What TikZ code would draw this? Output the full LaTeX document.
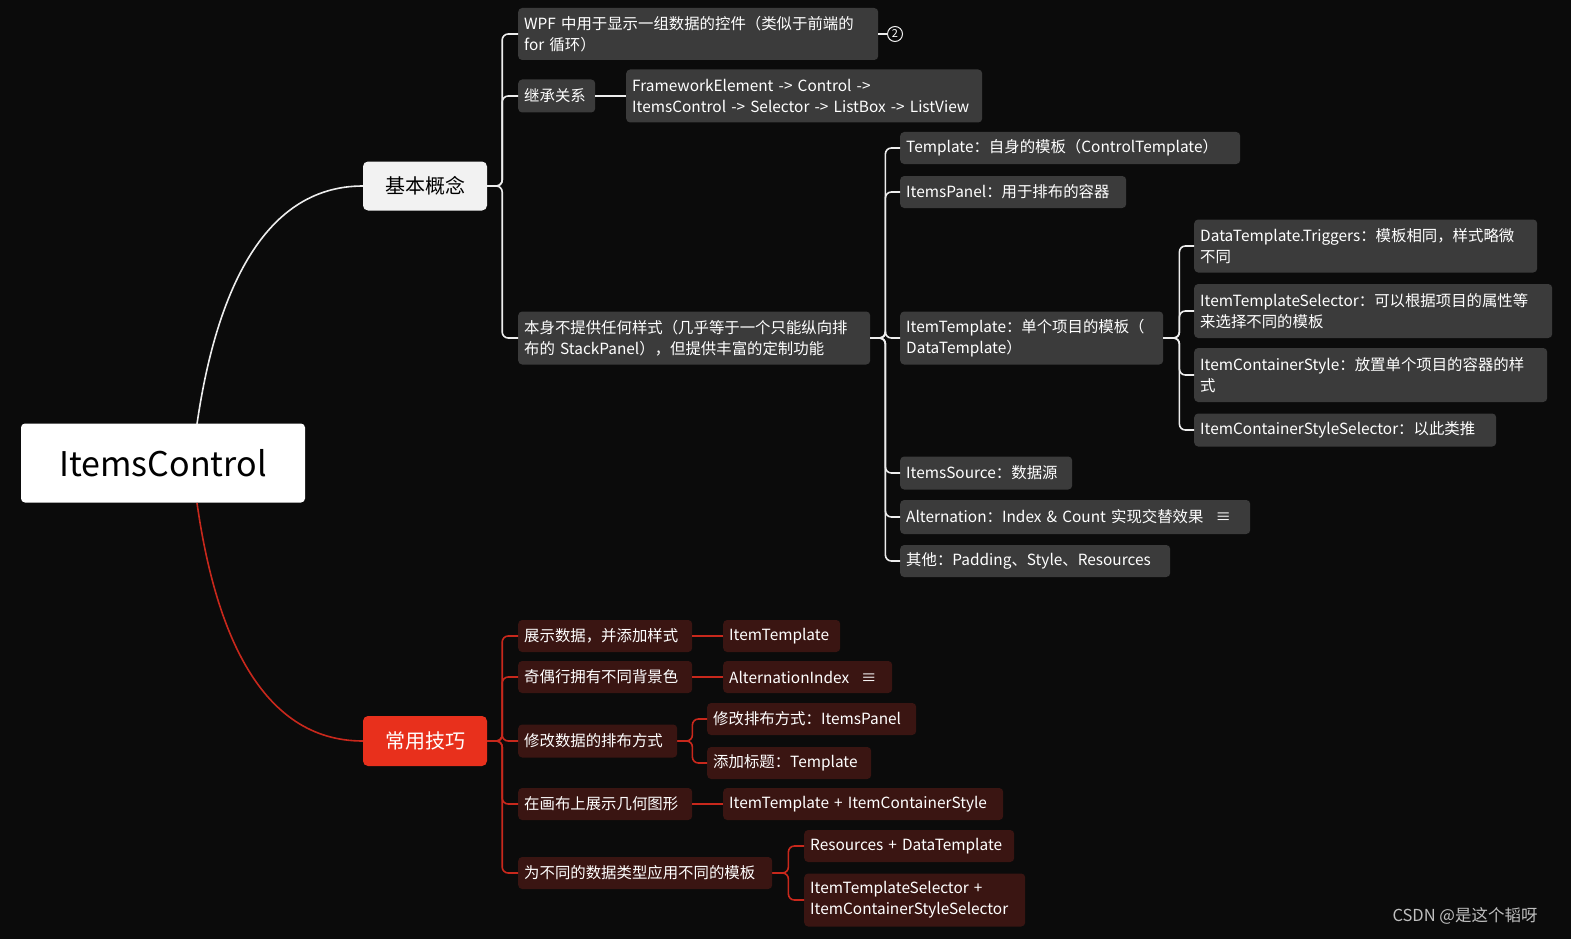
\documentclass[tikz,border=0pt]{standalone}
\usepackage{fontspec}
\setmainfont{Noto Sans CJK SC}
\begin{document}
\begin{tikzpicture}[x=1pt,y=-1pt,
 box/.style={anchor=west,rounded corners=4pt,inner xsep=6pt,inner ysep=0pt,align=left,font=\fontsize{15.4}{21}\selectfont},
 gbox/.style={box,fill=gfill,text=white},
 rbox/.style={box,fill=rfill,text=white},
 wl/.style={draw=lwhite,line width=1.6pt,rounded corners=6pt},
 rl/.style={draw=lred,line width=1.6pt,rounded corners=6pt}]
\definecolor{bg}{HTML}{0B0B0B}
\definecolor{gfill}{HTML}{3B3B3B}
\definecolor{rfill}{HTML}{3A1512}
\definecolor{lwhite}{HTML}{EDEDED}
\definecolor{lred}{HTML}{C8281C}
\definecolor{redmain}{HTML}{E8301C}
\fill[bg] (0,0) rectangle (1571,939);
\useasboundingbox (0,0) rectangle (1571,939);
% main nodes
\node[fill=white,rounded corners=4pt,minimum width=284pt,minimum height=79pt,font=\fontsize{34}{40}\selectfont] (root) at (163,463) {ItemsControl};
\node[fill=white!90!gray,rounded corners=5pt,minimum width=124pt,minimum height=49pt,font=\fontsize{20}{24}\selectfont] (jb) at (425,186) {基本概念};
\node[fill=redmain,text=white,rounded corners=5pt,minimum width=124pt,minimum height=50pt,font=\fontsize{20}{24}\selectfont] (cy) at (425,741) {常用技巧};
\draw[draw=lwhite,line width=1.6pt] (197,424) .. controls (215,300) and (260,186) .. (jb.west);
\draw[draw=lred,line width=1.6pt] (197,503) .. controls (215,630) and (260,741) .. (cy.west);
% basic concept children
\node[gbox,minimum height=52pt,text width=348pt] (a1) at (518,34) {WPF 中用于显示一组数据的控件（类似于前端的\\for 循环）};
\node[draw=lwhite,circle,line width=1pt,inner sep=0pt,minimum size=15pt,text=white,font=\fontsize{11}{11}\selectfont] (n2) at (895,34) {2};
\node[gbox,minimum height=33pt,text width=65pt] (a2) at (518,96) {继承关系};
\node[gbox,minimum height=53pt,text width=344pt] (a2b) at (626,96) {FrameworkElement -> Control ->\\ItemsControl -> Selector -> ListBox -> ListView};
\node[gbox,minimum height=53pt,text width=340pt] (a3) at (518,338) {本身不提供任何样式（几乎等于一个只能纵向排\\布的 StackPanel），但提供丰富的定制功能};
\draw[wl] (jb.east) -- ++(15,0) |- (a1.west);
\draw[wl] (jb.east) -- ++(15,0) |- (a2.west);
\draw[wl] (jb.east) -- ++(15,0) |- (a3.west);
\draw[wl] (a1.east) -- (n2.west);
\draw[wl] (a2.east) -- (a2b.west);
% b level
\node[gbox,minimum height=32pt,text width=328pt] (b1) at (900,148) {Template：自身的模板（ControlTemplate）};
\node[gbox,minimum height=32pt,text width=214pt] (b2) at (900,192) {ItemsPanel：用于排布的容器};
\node[gbox,minimum height=53pt,text width=251pt] (b3) at (900,338) {ItemTemplate：单个项目的模板（\\DataTemplate）};
\node[gbox,minimum height=33pt,text width=160pt] (b4) at (900,473) {ItemsSource：数据源};
\node[gbox,minimum height=34pt,text width=338pt] (b5) at (900,517) {Alternation：Index \& Count 实现交替效果\hspace{12pt}≡};
\node[gbox,minimum height=32pt,text width=258pt] (b6) at (900,561) {其他：Padding、Style、Resources};
\foreach \b in {b1,b2,b3,b4,b5,b6} \draw[wl] (a3.east) -- ++(15,0) |- (\b.west);
% c level
\node[gbox,minimum height=53pt,text width=331pt] (c1) at (1194,246) {DataTemplate.Triggers：模板相同，样式略微\\不同};
\node[gbox,minimum height=54pt,text width=346pt] (c2) at (1194,311) {ItemTemplateSelector：可以根据项目的属性等\\来选择不同的模板};
\node[gbox,minimum height=54pt,text width=341pt] (c3) at (1194,375) {ItemContainerStyle：放置单个项目的容器的样\\式};
\node[gbox,minimum height=33pt,text width=290pt] (c4) at (1194,430) {ItemContainerStyleSelector：以此类推};
\foreach \c in {c1,c2,c3,c4} \draw[wl] (b3.east) -- ++(16,0) |- (\c.west);
% red branch
\node[rbox,minimum height=32pt,text width=162pt] (r1) at (518,636) {展示数据，并添加样式};
\node[rbox,minimum height=32pt,text width=105pt] (r1b) at (723,636) {ItemTemplate};
\node[rbox,minimum height=32pt,text width=162pt] (r2) at (518,677) {奇偶行拥有不同背景色};
\node[rbox,minimum height=32pt,text width=157pt] (r2b) at (723,677) {AlternationIndex\hspace{12pt}≡};
\node[rbox,minimum height=33pt,text width=147pt] (r3) at (518,741) {修改数据的排布方式};
\node[rbox,minimum height=32pt,text width=197pt] (r3a) at (707,719) {修改排布方式：ItemsPanel};
\node[rbox,minimum height=32pt,text width=152pt] (r3b) at (707,763) {添加标题：Template};
\node[rbox,minimum height=32pt,text width=162pt] (r4) at (518,804) {在画布上展示几何图形};
\node[rbox,minimum height=32pt,text width=268pt] (r4b) at (723,804) {ItemTemplate + ItemContainerStyle};
\node[rbox,minimum height=32pt,text width=242pt] (r5) at (518,873) {为不同的数据类型应用不同的模板};
\node[rbox,minimum height=32pt,text width=198pt] (r5a) at (804,846) {Resources + DataTemplate};
\node[rbox,minimum height=53pt,text width=209pt] (r5b) at (804,900) {ItemTemplateSelector +\\ItemContainerStyleSelector};
\foreach \r in {r1,r2,r3,r4,r5} \draw[rl] (cy.east) -- ++(15,0) |- (\r.west);
\draw[rl] (r1.east) -- (r1b.west);
\draw[rl] (r2.east) -- (r2b.west);
\draw[rl] (r4.east) -- (r4b.west);
\draw[rl] (r3.east) -- ++(15,0) |- (r3a.west);
\draw[rl] (r3.east) -- ++(15,0) |- (r3b.west);
\draw[rl] (r5.east) -- ++(16,0) |- (r5a.west);
\draw[rl] (r5.east) -- ++(16,0) |- (r5b.west);
\node[text=white!75!black,font=\fontsize{16.5}{18}\selectfont] (wm) at (1465,916) {CSDN @是这个韬呀};
\end{tikzpicture}
\end{document}
